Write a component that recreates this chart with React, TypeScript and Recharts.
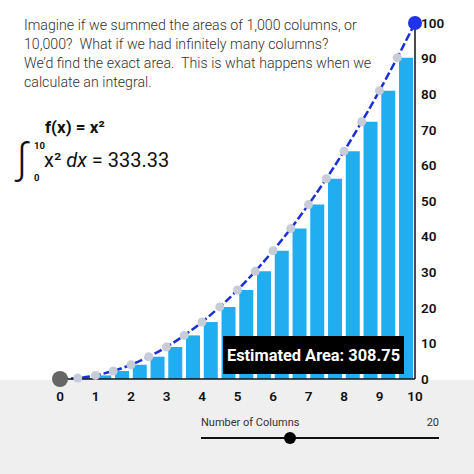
import React from 'react';
import { Bar, ComposedChart, Line, XAxis, YAxis } from 'recharts';

// 20 columns, left-endpoint heights of f(x) = x²
const colStarts = [0, 0.5, 1, 1.5, 2, 2.5, 3, 3.5, 4, 4.5, 5, 5.5, 6, 6.5, 7, 7.5, 8, 8.5, 9, 9.5];
const colHeights = [0, 0.25, 1, 2.25, 4, 6.25, 9, 12.25, 16, 20.25, 25, 30.25, 36, 42.25, 49, 56.25, 64, 72.25, 81, 90.25];

// points on the curve (grey dots)
const curveX = [0, 0.5, 1, 1.5, 2, 2.5, 3, 3.5, 4, 4.5, 5, 5.5, 6, 6.5, 7, 7.5, 8, 8.5, 9, 9.5, 10];
const curveY = [0, 0.25, 1, 2.25, 4, 6.25, 9, 12.25, 16, 20.25, 25, 30.25, 36, 42.25, 49, 56.25, 64, 72.25, 81, 90.25, 100];

const xTicks = [0, 1, 2, 3, 4, 5, 6, 7, 8, 9, 10];
const yTicks = [0, 10, 20, 30, 40, 50, 60, 70, 80, 90, 100];

const cols = colStarts.map((s, i) => ({ col: String(s), h: colHeights[i] }));
const curve = curveX.map((x, i) => ({ x, y: curveY[i] }));

const FONT = 'Roboto, "Noto Sans", sans-serif';
const TICK = { fontSize: 13.5, fontWeight: 600, fill: '#111', fontFamily: FONT };

function CurveDot(props: any) {
  const { cx, cy, index } = props;
  if (index === 0) return <circle key="first" cx={cx} cy={cy} r={8} fill="#666" />;
  if (index === curve.length - 1) return <circle key="last" cx={cx} cy={cy} r={7} fill="#1f33ee" />;
  return <circle key={'d' + index} cx={cx} cy={cy} r={4.5} fill="#c6ccd8" />;
}

export default function App() {
  return (
    <div style={{ position: 'relative', width: 474, height: 474, fontFamily: FONT, overflow: 'hidden' }}>
      <style>{'body{margin:0}'}</style>
      <div style={{ position: 'absolute', left: 0, top: 380, width: 474, height: 94, background: '#efefef' }} />

      <div style={{ position: 'absolute', left: 24, top: 16, fontSize: 14.2, lineHeight: '19px', color: '#333', fontWeight: 300 }}>
        Imagine if we summed the areas of 1,000 columns, or<br />
        10,000?&nbsp; What if we had infinitely many columns?<br />
        We’d find the exact area.&nbsp; This is what happens when we<br />
        calculate an integral.
      </div>

      <div style={{ position: 'absolute', left: 45, top: 117, fontSize: 17, fontWeight: 700, color: '#111' }}>
        f(x) = x²
      </div>
      <div style={{ position: 'absolute', left: 17, top: 135, fontSize: 42, color: '#111', fontWeight: 300, lineHeight: '48px' }}>∫</div>
      <div style={{ position: 'absolute', left: 34, top: 140, fontSize: 9.5, fontWeight: 700, color: '#111' }}>10</div>
      <div style={{ position: 'absolute', left: 34, top: 172, fontSize: 9.5, fontWeight: 700, color: '#111' }}>0</div>
      <div style={{ position: 'absolute', left: 44, top: 148, fontSize: 20, color: '#111' }}>
        x² <i>dx</i> = 333.33
      </div>

      <div style={{ position: 'absolute', left: 0, top: 0 }}>
        <ComposedChart width={474} height={474} data={cols} margin={{ top: 23, right: 29, left: 60, bottom: 65 }}>
          <XAxis xAxisId="cols" dataKey="col" type="category" hide height={0} padding={{ left: 0, right: 0 }} />
          <XAxis xAxisId="x" dataKey="x" type="number" domain={[0, 10]} ticks={xTicks}
            tick={TICK} tickLine={false} tickSize={0} tickMargin={12} axisLine={{ stroke: '#111', strokeWidth: 1.5 }} height={30} />
          <YAxis orientation="right" domain={[0, 100]} ticks={yTicks} width={30}
            tick={TICK} tickLine={false} tickSize={0} tickMargin={6} axisLine={{ stroke: '#111', strokeWidth: 1.5 }} />
          <Bar xAxisId="cols" dataKey="h" fill="#20aef0" isAnimationActive={false} />
          <Line xAxisId="x" data={curve} dataKey="y" type="monotone" stroke="#1b2fd6" strokeWidth={2.5}
            strokeDasharray="8 3" dot={<CurveDot />} activeDot={false} isAnimationActive={false} />
        </ComposedChart>
      </div>

      <div style={{ position: 'absolute', left: 223, top: 336, width: 181, height: 38, background: '#000', color: '#fff',
        fontSize: 16.4, fontWeight: 700, display: 'flex', alignItems: 'center', justifyContent: 'center', whiteSpace: 'nowrap' }}>
        Estimated Area: 308.75
      </div>

      <div style={{ position: 'absolute', left: 201, top: 416, fontSize: 11, color: '#333' }}>Number of Columns</div>
      <div style={{ position: 'absolute', left: 420, top: 416, width: 19, textAlign: 'right', fontSize: 11, color: '#333' }}>20</div>
      <div style={{ position: 'absolute', left: 201, top: 437, width: 238, height: 2, background: '#111' }} />
      <div style={{ position: 'absolute', left: 284, top: 432, width: 12, height: 12, borderRadius: 6, background: '#000' }} />
    </div>
  );
}
